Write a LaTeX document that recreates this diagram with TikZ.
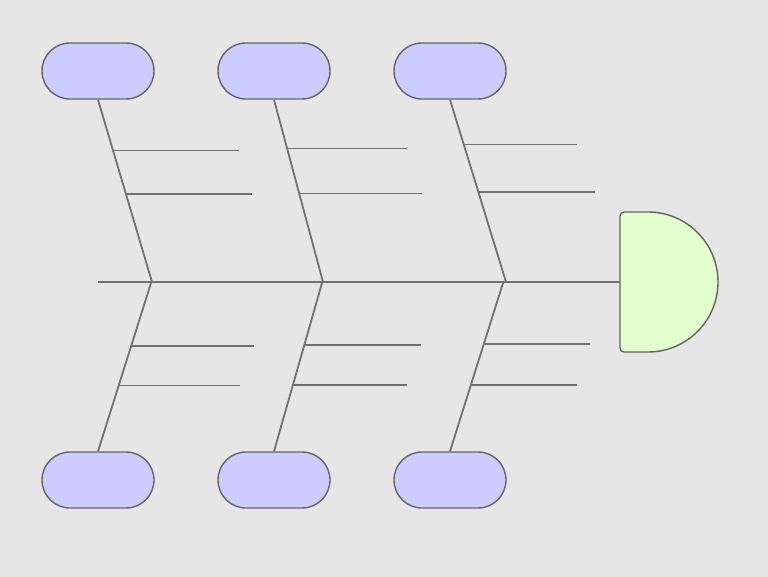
\documentclass[tikz,border=0pt]{standalone}
\usetikzlibrary{calc}
\definecolor{bgc}{RGB}{230,230,230}
\definecolor{boxc}{RGB}{204,204,255}
\definecolor{headc}{RGB}{224,255,204}
\definecolor{linec}{RGB}{112,112,112}
\definecolor{edgec}{RGB}{100,100,100}
\tikzset{
  cause/.style={draw=edgec, fill=boxc, line width=1.4pt, rounded corners=28pt,
    minimum width=112pt, minimum height=56pt, inner sep=0pt},
  bone/.style={draw=linec, line width=1.8pt},
}
\begin{document}
\begin{tikzpicture}[x=1pt,y=-1pt]
\fill[bgc] (0,0) rectangle (768,577);
\useasboundingbox (0,0) rectangle (768,577);
% head
\draw[draw=edgec, fill=headc, line width=1.4pt]
  (648,352) [rounded corners=4pt] -- (620,352) -- (620,212) [sharp corners] -- (648,212)
  arc[start angle=-90, end angle=90, radius=70] -- cycle;
\coordinate (head) at (620,282);
\coordinate (tail) at (98,282);
% cause boxes
\node[cause] (b1) at (98,71) {};
\node[cause] (b2) at (274,71) {};
\node[cause] (b3) at (450,71) {};
\node[cause] (c1) at (98,480) {};
\node[cause] (c2) at (274,480) {};
\node[cause] (c3) at (450,480) {};
% junctions
\coordinate (j1) at (152,282);
\coordinate (j2) at (323,282);
\coordinate (j3) at (506,282);
\coordinate (k1) at (151,283);
\coordinate (k2) at (322,283);
\coordinate (k3) at (503,283);
% spine
\draw[bone] (tail) -- (head);
% main bones
\draw[bone] (b1.south) -- (j1);
\draw[bone] (b2.south) -- (j2);
\draw[bone] (b3.south) -- (j3);
\draw[bone] (k1) -- (c1.north);
\draw[bone] (k2) -- (c2.north);
\draw[bone] (k3) -- (c3.north);
% sub-bones top
\draw[bone] ($(b1.south)!0.279!(j1)$) -- ++(126,0);
\draw[bone] ($(b1.south)!0.519!(j1)$) -- ++(126,0);
\draw[bone] ($(b2.south)!0.268!(j2)$) -- ++(120,0);
\draw[bone] ($(b2.south)!0.514!(j2)$) -- ++(123,0);
\draw[bone] ($(b3.south)!0.246!(j3)$) -- ++(113,0);
\draw[bone] ($(b3.south)!0.508!(j3)$) -- ++(117,0);
% sub-bones bottom
\draw[bone] ($(k1)!0.373!(c1.north)$) -- ++(123,0);
\draw[bone] ($(k1)!0.609!(c1.north)$) -- ++(121,0);
\draw[bone] ($(k2)!0.367!(c2.north)$) -- ++(117,0);
\draw[bone] ($(k2)!0.604!(c2.north)$) -- ++(114,0);
\draw[bone] ($(k3)!0.361!(c3.north)$) -- ++(106,0);
\draw[bone] ($(k3)!0.604!(c3.north)$) -- ++(106,0);
\end{tikzpicture}
\end{document}
